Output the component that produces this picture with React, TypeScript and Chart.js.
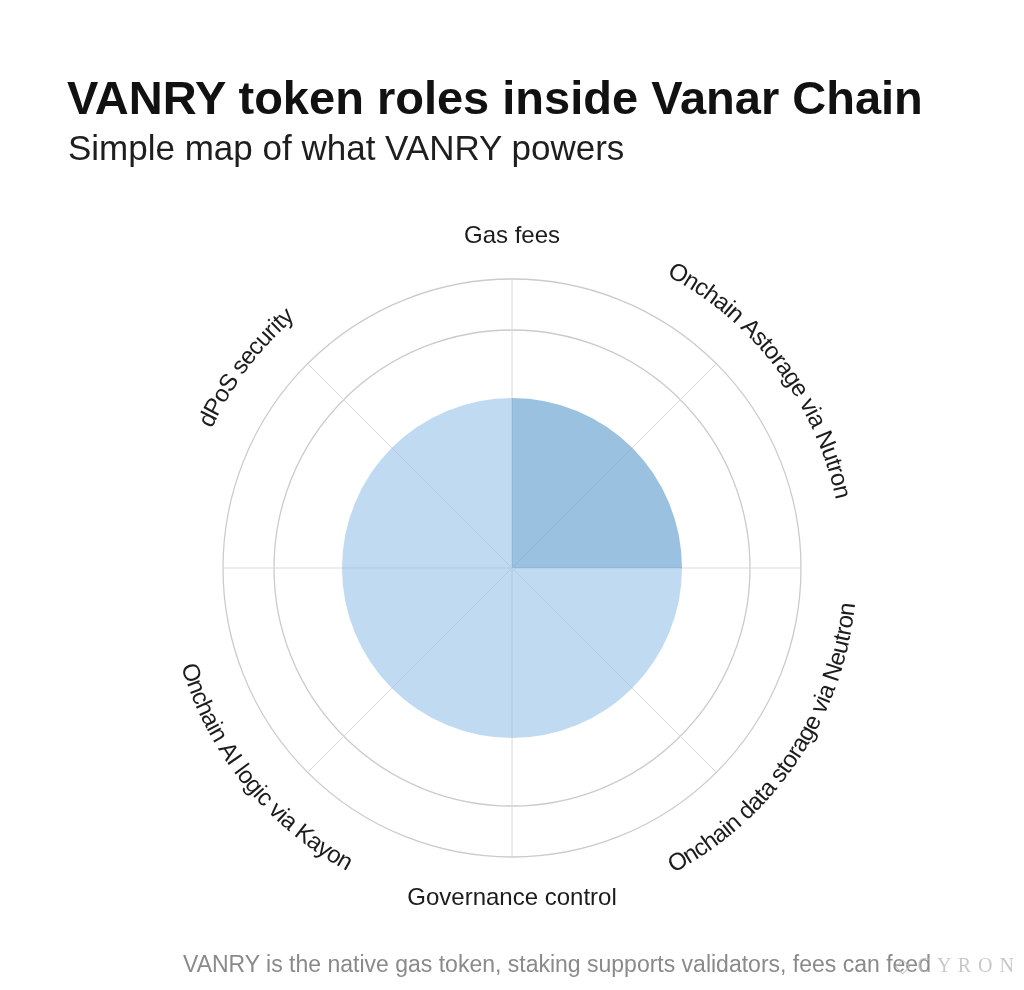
import React, { useEffect, useRef } from "react";
import { Chart, registerables } from "chart.js";

Chart.register(...registerables);

// ---- data ----
const titleText = "VANRY token roles inside Vanar Chain";
const subtitleText = "Simple map of what VANRY powers";
const footnoteText = "VANRY is the native gas token, staking supports validators, fees can feed";
const watermarkText = "◇ C Y R O N";

// the six roles, printed around the ring (clockwise from the top)
const categories = [
  "Gas fees",
  "Onchain Astorage via Nutron",
  "Onchain data storage via Neutron",
  "Governance control",
  "Onchain AI logic via Kayon",
  "dPoS security",
];

// the filled map is drawn as eight equal sectors (clockwise from the top)
const sectorNames = ["S1", "S2", "S3", "S4", "S5", "S6", "S7", "S8"];
const sectorValues = [1, 1, 1, 1, 1, 1, 1, 1];
const sectorHighlighted = [true, true, false, false, false, false, false, false];

// radial scale
const scaleMax = 1.7;
const gridRings = [0, 1.4, 1.7];

// ---- styling / layout (kept apart from the data) ----
const FONT = '"Liberation Sans", Arial, Helvetica, sans-serif';
const labelAngles = [0, 53, 124, 180, 231, 307];
const labelCurved = [false, true, true, false, true, true];
const darkFill = "rgba(73,142,199,0.55)";
const lightFill = "rgba(140,190,230,0.55)";

const curvedLabels = {
  id: "curvedLabels",
  afterDraw(chart: any, _args: any, opts: any) {
    const scale = chart.scales.r;
    const cx = scale.xCenter;
    const cy = scale.yCenter;
    const ctx = chart.ctx;
    ctx.save();
    ctx.font = opts.font;
    ctx.fillStyle = opts.color;
    ctx.textBaseline = "alphabetic";
    categories.forEach((label, i) => {
      const th = (opts.angles[i] * Math.PI) / 180;
      const bottom = Math.cos(th) < -0.1;
      if (!opts.curved[i]) {
        const R = bottom ? opts.straightBottom : opts.straightTop;
        ctx.save();
        ctx.translate(cx + R * Math.sin(th), cy - R * Math.cos(th));
        ctx.rotate(bottom ? th + Math.PI : th);
        ctx.textAlign = "center";
        ctx.fillText(label, 0, 0);
        ctx.restore();
        return;
      }
      ctx.textAlign = "center";
      const R = bottom ? opts.radiusBottom : opts.radiusTop;
      const chars = Array.from(label);
      const widths = chars.map((ch) => ctx.measureText(ch).width * opts.spacing);
      const total = widths.reduce((a, b) => a + b, 0);
      const span = total / R;
      let off = 0;
      chars.forEach((ch, k) => {
        const mid = (off + widths[k] / 2) / R;
        const a = bottom ? th + span / 2 - mid : th - span / 2 + mid;
        const x = cx + R * Math.sin(a);
        const y = cy - R * Math.cos(a);
        ctx.save();
        ctx.translate(x, y);
        ctx.rotate(bottom ? a + Math.PI : a);
        ctx.fillText(ch, 0, 0);
        ctx.restore();
        off += widths[k];
      });
    });
    ctx.restore();
  },
};

export default function App() {
  const canvasRef = useRef<HTMLCanvasElement | null>(null);

  useEffect(() => {
    if (!canvasRef.current) return;
    const chart = new Chart(canvasRef.current, {
      type: "polarArea",
      data: {
        labels: sectorNames,
        datasets: [
          {
            data: sectorValues,
            backgroundColor: sectorHighlighted.map((h) => (h ? darkFill : lightFill)),
            borderWidth: 0,
          },
        ],
      },
      options: {
        responsive: false,
        animation: false,
        devicePixelRatio: 1,
        layout: { padding: { left: 223, right: 223, top: 279, bottom: 133 } },
        scales: {
          r: {
            min: 0,
            max: scaleMax,
            startAngle: 0,
            ticks: { display: false },
            afterBuildTicks: (scale: any) => {
              scale.ticks = gridRings.map((v) => ({ value: v }));
            },
            grid: { circular: true, color: "#cbcbcb", lineWidth: 1.3 },
            angleLines: { display: true, color: "#dadada", lineWidth: 1 },
            pointLabels: { display: false },
          },
        },
        plugins: {
          legend: { display: false },
          tooltip: { enabled: false },
          curvedLabels: {
            angles: labelAngles,
            curved: labelCurved,
            radiusTop: 331,
            radiusBottom: 345,
            straightTop: 325,
            straightBottom: 337,
            spacing: 0.94,
            font: `24px ${FONT}`,
            color: "#1c1c1c",
          },
        } as any,
      },
      plugins: [curvedLabels],
    });
    return () => chart.destroy();
  }, []);

  return (
    <div
      style={{
        position: "absolute",
        left: 0,
        top: 0,
        width: 1024,
        height: 990,
        background: "#ffffff",
        overflow: "hidden",
        fontFamily: FONT,
      }}
    >
      <canvas ref={canvasRef} width={1024} height={990} style={{ position: "absolute", left: 0, top: 0 }} />
      <div
        style={{
          position: "absolute",
          left: 67,
          top: 74,
          fontSize: 47,
          lineHeight: "47px",
          fontWeight: "bold",
          color: "#111111",
          whiteSpace: "nowrap",
        }}
      >
        {titleText}
      </div>
      <div
        style={{
          position: "absolute",
          left: 68,
          top: 130,
          fontSize: 35,
          lineHeight: "35px",
          color: "#1e1e1e",
          whiteSpace: "nowrap",
        }}
      >
        {subtitleText}
      </div>
      <div
        style={{
          position: "absolute",
          left: 183,
          top: 953,
          fontSize: 23,
          lineHeight: "23px",
          color: "#8a8a8a",
          whiteSpace: "nowrap",
        }}
      >
        {footnoteText}
      </div>
      <div
        style={{
          position: "absolute",
          left: 895,
          top: 954,
          fontSize: 20,
          lineHeight: "22px",
          color: "rgba(190,190,190,0.85)",
          fontFamily: '"Liberation Serif", "DejaVu Serif", serif',
          whiteSpace: "nowrap",
          letterSpacing: 1,
        }}
      >
        {watermarkText}
      </div>
    </div>
  );
}
